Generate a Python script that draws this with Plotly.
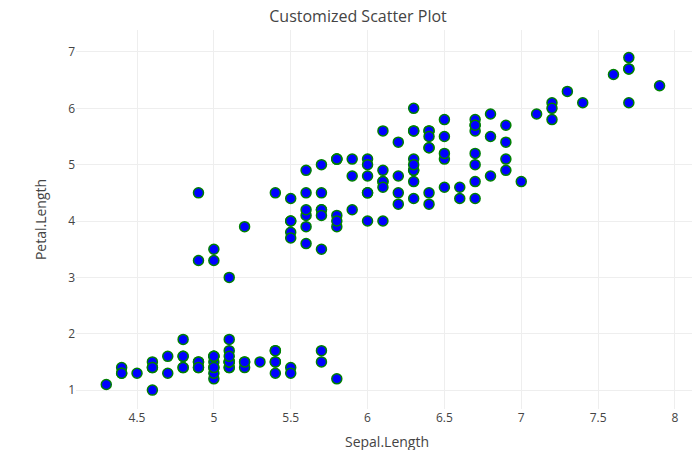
import plotly.graph_objects as go

# iris: sepal length / petal length
sepal_length = [
    5.1, 4.9, 4.7, 4.6, 5.0, 5.4, 4.6, 5.0, 4.4, 4.9, 5.4, 4.8, 4.8, 4.3, 5.8, 5.7, 5.4, 5.1, 5.7, 5.1,
    5.4, 5.1, 4.6, 5.1, 4.8, 5.0, 5.0, 5.2, 5.2, 4.7, 4.8, 5.4, 5.2, 5.5, 4.9, 5.0, 5.5, 4.9, 4.4, 5.1,
    5.0, 4.5, 4.4, 5.0, 5.1, 4.8, 5.1, 4.6, 5.3, 5.0,
    7.0, 6.4, 6.9, 5.5, 6.5, 5.7, 6.3, 4.9, 6.6, 5.2, 5.0, 5.9, 6.0, 6.1, 5.6, 6.7, 5.6, 5.8, 6.2, 5.6,
    5.9, 6.1, 6.3, 6.1, 6.4, 6.6, 6.8, 6.7, 6.0, 5.7, 5.5, 5.5, 5.8, 6.0, 5.4, 6.0, 6.7, 6.3, 5.6, 5.5,
    5.5, 6.1, 5.8, 5.0, 5.6, 5.7, 5.7, 6.2, 5.1, 5.7,
    6.3, 5.8, 7.1, 6.3, 6.5, 7.6, 4.9, 7.3, 6.7, 7.2, 6.5, 6.4, 6.8, 5.7, 5.8, 6.4, 6.5, 7.7, 7.7, 6.0,
    6.9, 5.6, 7.7, 6.3, 6.7, 7.2, 6.2, 6.1, 6.4, 7.2, 7.4, 7.9, 6.4, 6.3, 6.1, 7.7, 6.3, 6.4, 6.0, 6.9,
    6.7, 6.9, 5.8, 6.8, 6.7, 6.7, 6.3, 6.5, 6.2, 5.9,
]
petal_length = [
    1.4, 1.4, 1.3, 1.5, 1.4, 1.7, 1.4, 1.5, 1.4, 1.5, 1.5, 1.6, 1.4, 1.1, 1.2, 1.5, 1.3, 1.4, 1.7, 1.5,
    1.7, 1.5, 1.0, 1.7, 1.9, 1.6, 1.6, 1.5, 1.4, 1.6, 1.6, 1.5, 1.5, 1.4, 1.5, 1.2, 1.3, 1.4, 1.3, 1.5,
    1.3, 1.3, 1.3, 1.6, 1.9, 1.4, 1.6, 1.4, 1.5, 1.4,
    4.7, 4.5, 4.9, 4.0, 4.6, 4.5, 4.7, 3.3, 4.6, 3.9, 3.5, 4.2, 4.0, 4.7, 3.6, 4.4, 4.5, 4.1, 4.5, 3.9,
    4.8, 4.0, 4.9, 4.7, 4.3, 4.4, 4.8, 5.0, 4.5, 3.5, 3.8, 3.7, 3.9, 5.1, 4.5, 4.5, 4.7, 4.4, 4.1, 4.0,
    4.4, 4.6, 4.0, 3.3, 4.2, 4.2, 4.2, 4.3, 3.0, 4.1,
    6.0, 5.1, 5.9, 5.6, 5.8, 6.6, 4.5, 6.3, 5.8, 6.1, 5.1, 5.3, 5.5, 5.0, 5.1, 5.3, 5.5, 6.7, 6.9, 5.0,
    5.7, 4.9, 6.7, 4.9, 5.7, 6.0, 4.8, 4.9, 5.6, 5.8, 6.1, 6.4, 5.6, 5.1, 5.6, 6.1, 5.6, 5.5, 4.8, 5.4,
    5.6, 5.1, 5.1, 5.9, 5.7, 5.2, 5.0, 5.2, 5.4, 5.1,
]

fig = go.Figure(go.Scatter(
    x=sepal_length, y=petal_length, mode="markers",
    marker=dict(size=10, color="blue", line=dict(color="green", width=1.5)),
))
fig.update_layout(
    title=dict(text="Customized Scatter Plot", x=0.5, y=0.982, yanchor="middle",
               font=dict(size=16)),
    plot_bgcolor="white", paper_bgcolor="white",
    width=700, height=450,
    margin=dict(l=68, r=10, t=22, b=47),
    font=dict(family="Open Sans", color="#444", size=12),
    xaxis=dict(title=dict(text="Sepal.Length", standoff=12), range=[4.103, 8.15], dtick=0.5,
               zeroline=False, gridcolor="#eee", showline=False),
    yaxis=dict(title=dict(text="Petal.Length", standoff=18), range=[0.665, 7.39], dtick=1,
               zeroline=False, gridcolor="#eee", showline=False),
)
fig.write_html("out.html")
